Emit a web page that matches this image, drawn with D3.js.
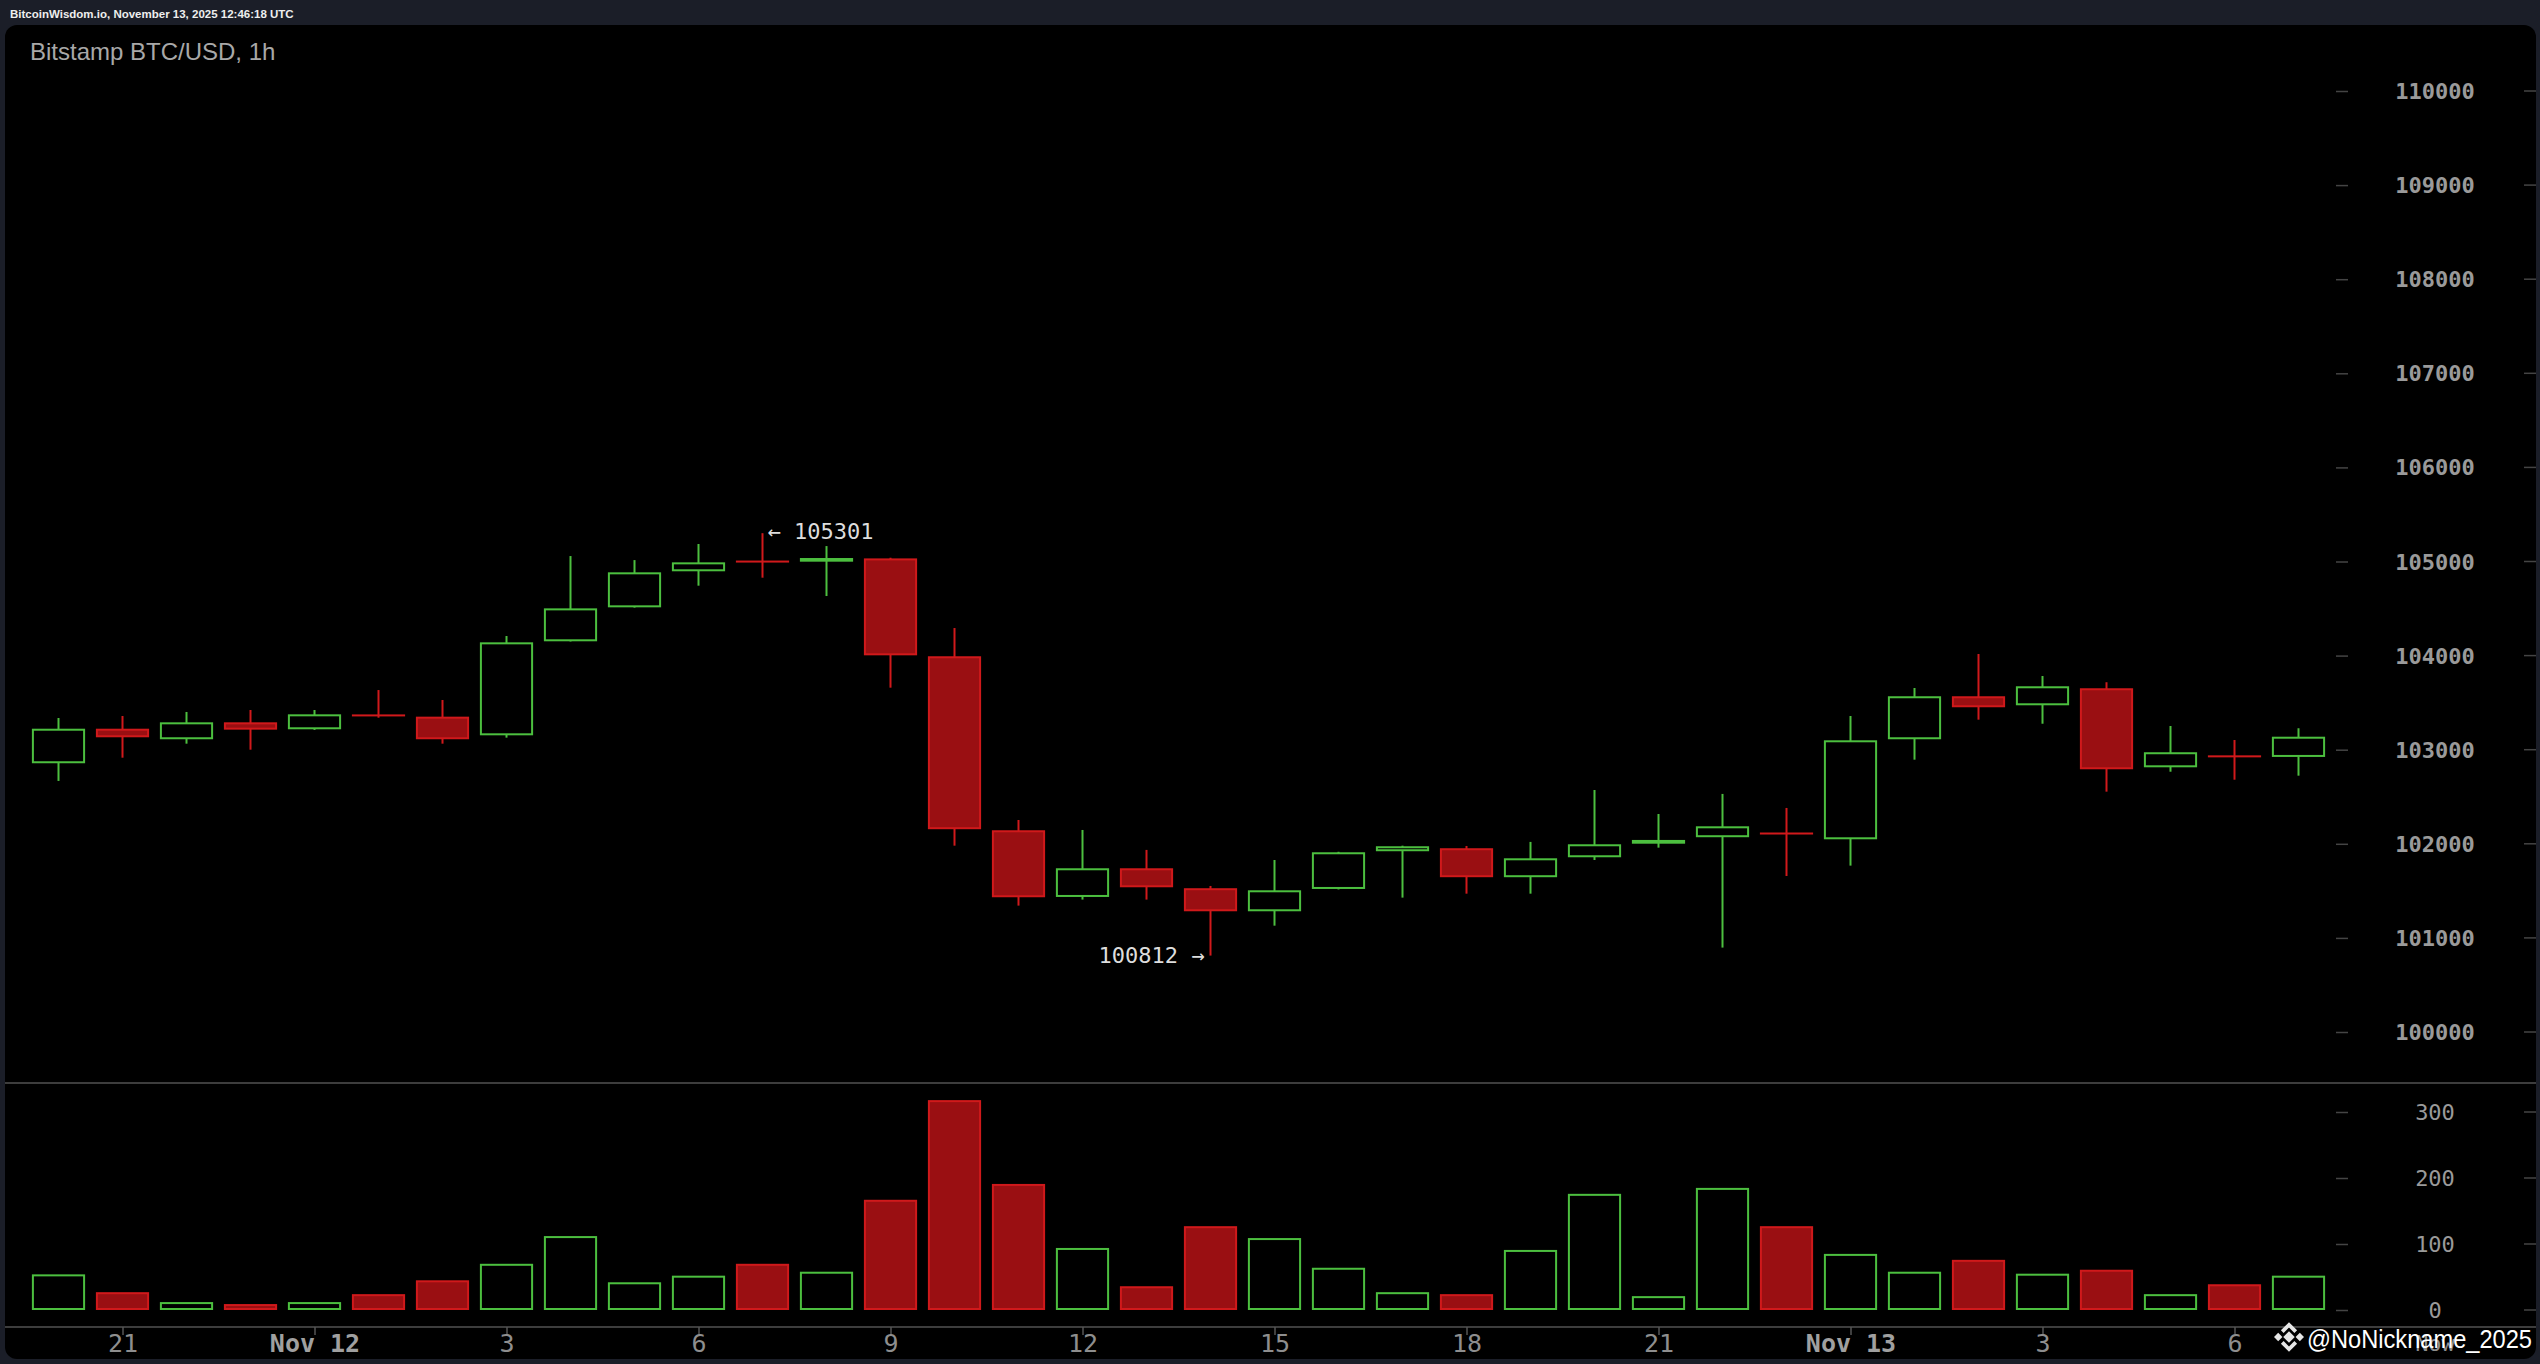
<!DOCTYPE html>
<html>
<head>
<meta charset="utf-8">
<script src="https://cdn.jsdelivr.net/npm/d3@7"></script>
<style>
html,body{margin:0;padding:0;background:#1b1e28;overflow:hidden}
svg{display:block}
</style>
</head>
<body>
<svg id="chart" width="2540" height="1364"></svg>
<script>
// ---- Data (Bitstamp BTC/USD, 1h candles) ----
const candleTimes = [
  "2025-11-11T20:00Z","2025-11-11T21:00Z","2025-11-11T22:00Z","2025-11-11T23:00Z",
  "2025-11-12T00:00Z","2025-11-12T01:00Z","2025-11-12T02:00Z","2025-11-12T03:00Z",
  "2025-11-12T04:00Z","2025-11-12T05:00Z","2025-11-12T06:00Z","2025-11-12T07:00Z",
  "2025-11-12T08:00Z","2025-11-12T09:00Z","2025-11-12T10:00Z","2025-11-12T11:00Z",
  "2025-11-12T12:00Z","2025-11-12T13:00Z","2025-11-12T14:00Z","2025-11-12T15:00Z",
  "2025-11-12T16:00Z","2025-11-12T17:00Z","2025-11-12T18:00Z","2025-11-12T19:00Z",
  "2025-11-12T20:00Z","2025-11-12T21:00Z","2025-11-12T22:00Z","2025-11-12T23:00Z",
  "2025-11-13T00:00Z","2025-11-13T01:00Z","2025-11-13T02:00Z","2025-11-13T03:00Z",
  "2025-11-13T04:00Z","2025-11-13T05:00Z","2025-11-13T06:00Z","2025-11-13T07:00Z"
];
const openVals  = [102856,103223,103111,103291,103217,103375,103351,103153,104152,104513,104896,105010,
                   104998,105033,103993,102144,101435,101740,101528,101283,101520,101921,101953,101645,
                   101857,102001,102070,102120,102048,103111,103568,103472,103653,102813,102940,102923];
const highVals  = [103337,103358,103401,103422,103422,103634,103528,104208,105058,105015,105186,105301,
                   105164,105040,104293,102253,102147,101935,101552,101828,101915,101980,101977,102020,
                   102572,102317,102530,102381,103358,103656,104017,103783,103717,103252,103103,103228];
const lowVals   = [102668,102915,103064,103000,103210,103340,103064,103128,104150,104510,104743,104828,
                   104633,103659,101980,101343,101407,101407,100812,101130,101515,101428,101470,101470,
                   101828,101959,100897,101658,101768,102894,103319,103276,102554,102766,102681,102724];
const closeVals = [103223,103132,103291,103213,103376,103370,103111,104141,104502,104885,104991,105005,
                   105037,104003,102155,101432,101740,101538,101283,101506,101910,101974,101645,101846,
                   101995,102041,102186,102115,103100,103568,103451,103674,102792,102973,102935,103138];
const volumeVals = [54,27,12,9,12,24,45,70,112,42,52,70,
                    58,167,318,191,94,36,127,109,64,27,24,91,
                    176,21,185,127,85,58,76,55,61,24,39,52];

const priceTicks = [100000,101000,102000,103000,104000,105000,106000,107000,108000,109000,110000];
const volumeTicks = [0,100,200,300];
const timeTickDates = ["2025-11-11T21:00Z","2025-11-12T00:00Z","2025-11-12T03:00Z","2025-11-12T06:00Z",
                       "2025-11-12T09:00Z","2025-11-12T12:00Z","2025-11-12T15:00Z","2025-11-12T18:00Z",
                       "2025-11-12T21:00Z","2025-11-13T00:00Z","2025-11-13T03:00Z","2025-11-13T06:00Z"];
const timeTickLabels = ["21","Nov 12","3","6","9","12","15","18","21","Nov 13","3","6"];
const boldTickLabels = ["Nov 12","Nov 13"];

const headerText = "BitcoinWisdom.io, November 13, 2025 12:46:18 UTC";
const titleText = "Bitstamp BTC/USD, 1h";
const watermarkText = "@NoNickname_2025";

// ---- Styles ----
const UP = "#4cbf3f", DOWN_STROKE = "#d0191b", DOWN_FILL = "#9a0f12";
const MONO = "'DejaVu Sans Mono', monospace";
const SANS = "'Liberation Sans', Arial, sans-serif";

const data = candleTimes.map((t, i) => ({
  t: new Date(t), o: openVals[i], h: highVals[i], l: lowVals[i], c: closeVals[i], v: volumeVals[i]
}));

const svg = d3.select("#chart");

// frame + panel
svg.append("rect").attr("x",0).attr("y",0).attr("width",2540).attr("height",1364).attr("fill","#1b1e28");
svg.append("rect").attr("x",5).attr("y",25).attr("width",2531).attr("height",1334).attr("rx",12).attr("fill","#000");

svg.append("text").attr("x",10).attr("y",17.5).attr("fill","#eeeeee")
  .attr("font-family",SANS).attr("font-size",11.5).attr("font-weight","bold").text(headerText);
svg.append("text").attr("x",30).attr("y",60).attr("fill","#a8a8a8")
  .attr("font-family",SANS).attr("font-size",24).text(titleText);

// scales
const x = d3.scaleUtc().domain([data[0].t, data[data.length-1].t]).range([58.5, 2298.5]);
const hourPx = x(data[1].t) - x(data[0].t);
const bodyW = hourPx * 0.8;
const yP = d3.scaleLinear().domain([100000,110000]).range([1032,91]);
const yV = d3.scaleLinear().domain([0,300]).range([1310,1112]);

// separator lines
svg.append("line").attr("x1",5).attr("x2",2536).attr("y1",1083).attr("y2",1083)
  .attr("stroke","#3d3d3d").attr("stroke-width",2);
svg.append("line").attr("x1",5).attr("x2",2536).attr("y1",1327).attr("y2",1327)
  .attr("stroke","#3d3d3d").attr("stroke-width",2);

const isUp = d => d.c >= d.o;

// wicks
svg.append("g").selectAll("line").data(data).join("line")
  .attr("x1", d => x(d.t)).attr("x2", d => x(d.t))
  .attr("y1", d => yP(d.h)).attr("y2", d => yP(d.l))
  .attr("stroke", d => isUp(d) ? UP : DOWN_STROKE).attr("stroke-width", 2);

// bodies
svg.append("g").selectAll("rect").data(data).join("rect")
  .attr("x", d => x(d.t) - bodyW/2)
  .attr("y", d => yP(Math.max(d.o,d.c)) + 1)
  .attr("width", bodyW)
  .attr("height", d => Math.max(0.01, Math.abs(yP(d.o) - yP(d.c)) - 2))
  .attr("fill", d => isUp(d) ? "#000" : DOWN_FILL)
  .attr("stroke", d => isUp(d) ? UP : DOWN_STROKE).attr("stroke-width", 2);

// volume bars
svg.append("g").selectAll("rect").data(data).join("rect")
  .attr("x", d => x(d.t) - bodyW/2)
  .attr("y", d => yV(d.v) + 1)
  .attr("width", bodyW)
  .attr("height", d => Math.max(0.01, yV(0) - yV(d.v) - 2))
  .attr("fill", d => isUp(d) ? "#000" : DOWN_FILL)
  .attr("stroke", d => isUp(d) ? UP : DOWN_STROKE).attr("stroke-width", 2);

// price axis
function styleRightAxis(weight) {
  return g => {
    g.select(".domain").remove();
    g.selectAll(".tick line").attr("stroke","#444").attr("stroke-width",1.5);
    g.selectAll(".tick text").attr("x",99).attr("dy",null).attr("dominant-baseline","central")
      .attr("text-anchor","middle").attr("fill","#9a9a9a")
      .attr("font-family",MONO).attr("font-size",22).attr("font-weight",weight);
    g.attr("font-family",null).attr("font-size",null);
  };
}
svg.append("g").attr("transform","translate(2336,0)")
  .call(d3.axisRight(yP).tickValues(priceTicks).tickSize(12).tickFormat(d3.format("d")))
  .call(styleRightAxis("bold"));
svg.append("g").attr("transform","translate(2336,0)")
  .call(d3.axisRight(yV).tickValues(volumeTicks).tickSize(12).tickFormat(d3.format("d")))
  .call(styleRightAxis("normal"));
// right-edge dashes
svg.append("g").selectAll("line").data(priceTicks).join("line")
  .attr("x1",2524).attr("x2",2536).attr("y1",d=>yP(d)).attr("y2",d=>yP(d))
  .attr("stroke","#444").attr("stroke-width",1.5);
svg.append("g").selectAll("line").data(volumeTicks).join("line")
  .attr("x1",2524).attr("x2",2536).attr("y1",d=>yV(d)).attr("y2",d=>yV(d))
  .attr("stroke","#444").attr("stroke-width",1.5);

// time axis
const tickDates = timeTickDates.map(s => new Date(s));
const xAxisG = svg.append("g").attr("transform","translate(0,1327)")
  .call(d3.axisBottom(x).tickValues(tickDates).tickSize(8).tickFormat((d,i) => timeTickLabels[i]));
xAxisG.select(".domain").remove();
xAxisG.attr("font-family",null).attr("font-size",null);
xAxisG.selectAll(".tick line").attr("stroke","#555").attr("stroke-width",1.5);
xAxisG.selectAll(".tick text").attr("y",25).attr("dy",null)
  .attr("font-family",MONO).attr("font-size",25)
  .attr("fill", (d,i) => boldTickLabels.includes(timeTickLabels[i]) ? "#a0a0a0" : "#8e8e8e")
  .attr("font-weight", (d,i) => boldTickLabels.includes(timeTickLabels[i]) ? "bold" : "normal");
svg.append("text").attr("x",2435).attr("y",1351).attr("text-anchor","middle")
  .attr("fill","#8e8e8e").attr("font-family",MONO).attr("font-size",22).text("Now");

// high / low annotations
const hiD = data.reduce((a,b) => b.h > a.h ? b : a);
const loD = data.reduce((a,b) => b.l < a.l ? b : a);
svg.append("text").attr("x", x(hiD.t) + 5).attr("y", yP(hiD.h) + 6)
  .attr("fill","#dddddd").attr("font-family",MONO).attr("font-size",22)
  .text("\u2190 " + hiD.h);
svg.append("text").attr("x", x(loD.t) - 6).attr("y", yP(loD.l) + 7).attr("text-anchor","end")
  .attr("fill","#dddddd").attr("font-family",MONO).attr("font-size",22)
  .text(loD.l + " \u2192");

// watermark
const wm = svg.append("g").attr("transform","translate(2289,1337) scale(1.35)").attr("fill","#e6e6e6");
wm.append("rect").attr("x",-3).attr("y",-3).attr("width",6).attr("height",6).attr("transform","rotate(45)");
wm.append("rect").attr("x",-2.2).attr("y",-2.2).attr("width",4.4).attr("height",4.4).attr("transform","translate(-8,0) rotate(45)");
wm.append("rect").attr("x",-2.2).attr("y",-2.2).attr("width",4.4).attr("height",4.4).attr("transform","translate(8,0) rotate(45)");
wm.append("path").attr("d","M-6,-5 L0,-11 L6,-5 L4,-3 L0,-7 L-4,-3 Z");
wm.append("path").attr("d","M-6,5 L0,11 L6,5 L4,3 L0,7 L-4,3 Z");
svg.append("text").attr("x",2307).attr("y",1348).attr("fill","#ffffff")
  .attr("font-family",SANS).attr("font-size",26)
  .attr("textLength",225).attr("lengthAdjust","spacingAndGlyphs").text(watermarkText);
</script>
</body>
</html>
